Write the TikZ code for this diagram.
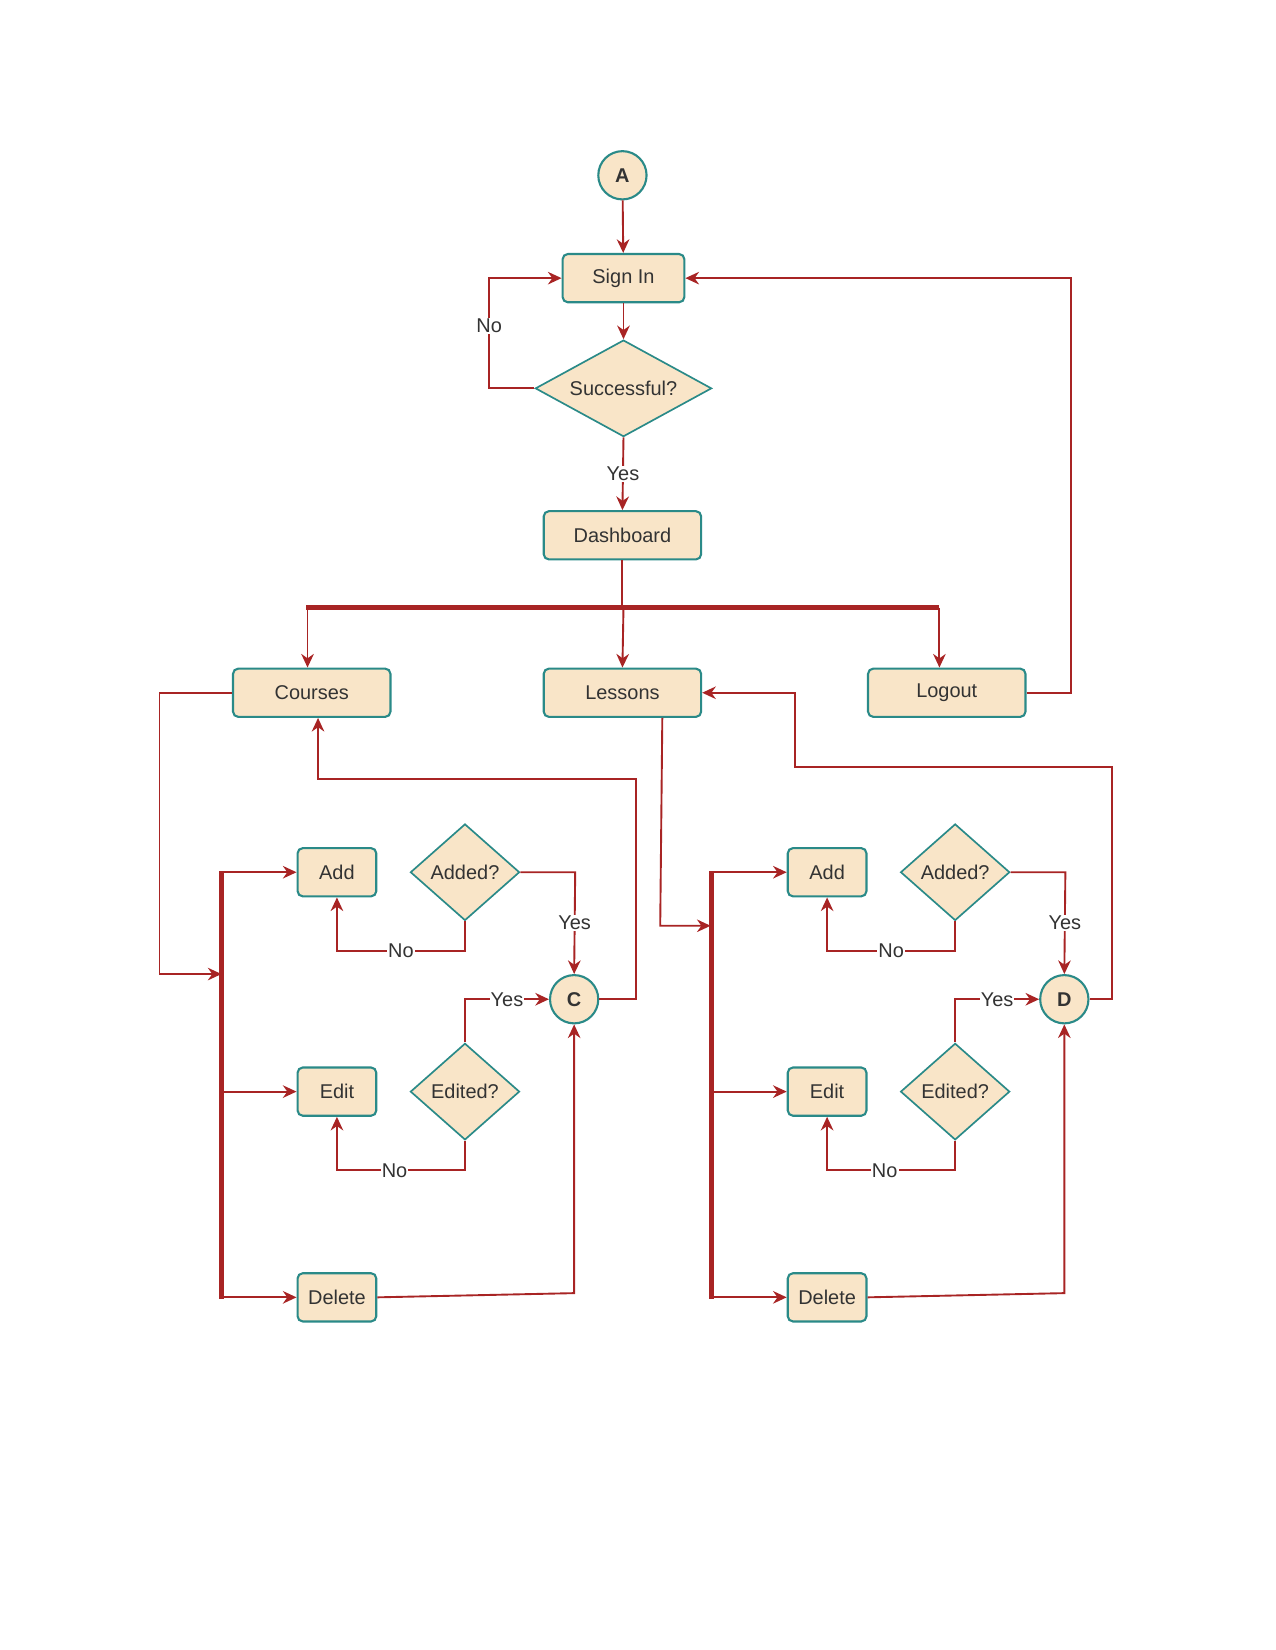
\documentclass[tikz,border=0pt]{standalone}
\usepackage{fontspec}
\setmainfont{Liberation Sans}
\usetikzlibrary{shapes.geometric,arrows.meta}
\definecolor{bg}{HTML}{F9E5C8}
\definecolor{bd}{HTML}{2A8A88}
\definecolor{ln}{HTML}{A82424}
\definecolor{tx}{HTML}{333333}
\begin{document}
\begin{tikzpicture}[x=0.5pt,y=-0.5pt,
  every node/.style={text=tx,font=\fontsize{9.5}{11}\selectfont},
  box/.style={draw=bd,line width=1pt,fill=bg,rounded corners=2.5pt,minimum width=75pt,minimum height=23pt,inner sep=0pt},
  sbox/.style={box,minimum width=37.5pt},
  dia/.style={draw=bd,line width=0.8pt,fill=bg,diamond,inner sep=0pt,aspect=1.83,minimum width=84pt,minimum height=46pt},
  sdia/.style={dia,aspect=1.13,minimum width=52pt},
  circ/.style={draw=bd,line width=1pt,fill=bg,circle,minimum size=23pt,inner sep=0pt,font=\bfseries\fontsize{9.5}{11}\selectfont},
  ar/.style={draw=ln,line width=0.9pt,-{Stealth[length=6.5pt,width=6pt]}},
  pl/.style={draw=ln,line width=0.9pt},
  bus/.style={draw=ln,line width=2.5pt},
  lab/.style={fill=white,inner sep=0.5pt}]
\useasboundingbox (0,0) rectangle (1215,1572);
\node[circ] (A) at (593,167) {A};
\node[box,minimum width=58pt] (sign) at (594,265) {Sign In};
\node[dia] (succ) at (594,370) {Successful?};
\node[box] (dash) at (593,510) {Dashboard};
\node[box] (cour) at (297,660) {Courses};
\node[box] (less) at (593,660) {Lessons};
\node[box] (logo) at (902,660) {Logout};
\coordinate (b1) at (292,579); \coordinate (b2) at (895,579);
\draw[ar] (A) -- (sign);
\draw[ar] (sign) -- (succ);
\draw[ar] (succ.south) -- node[lab]{Yes} (dash.north);
\draw[pl] (dash.south) -- (593,579);
\draw[bus] (b1) -- (b2);
\draw[ar] (293,579) -- (cour.north -| 293,0);
\draw[ar] (594,579) -- (less.north);
\draw[ar] (895,579) -- (logo.north -| 895,0);
\draw[ar] (succ.west) -- (466,370) -- node[lab,pos=0.57]{No} (466,265) -- (sign.west);
\draw[ar] (logo.east) -- (1020,660) -- (1020,265) -- (sign.east);
\foreach \s/\dx/\L/\src in {L/0/C/cour, R/467/D/less}{
  \begin{scope}[xshift=\dx*0.5pt]
  \node[sbox] (add\s) at (321,831) {Add};
  \node[sdia] (ad\s) at (443,831) {Added?};
  \node[circ] (\L) at (547,952) {\L};
  \node[sdia] (ed\s) at (443,1040) {Edited?};
  \node[sbox] (edit\s) at (321,1040) {Edit};
  \node[sbox] (del\s) at (321,1236) {Delete};
  \draw[bus] (211,830) -- (211,1238);
  \draw[ar] (211,831) -- (add\s.west);
  \draw[ar] (211,1040) -- (edit\s.west);
  \draw[ar] (211,1236) -- (del\s.west);
  \draw[ar] (ad\s.east) -- (548,831) -- node[lab]{Yes} (\L.north);
  \draw[ar] (ad\s.south) -- (443,906) -- node[lab,pos=0.5]{No} (321,906) -- (add\s.south);
  \draw[ar] (ed\s.north) -- (443,952) -- node[lab]{Yes} (\L.west);
  \draw[ar] (ed\s.south) -- (443,1115) -- node[lab,pos=0.55]{No} (321,1115) -- (edit\s.south);
  \draw[ar] (del\s.east) -- (547,1232) -- (\L.south);
  \end{scope}
}
\draw[ar] (cour.west) -- (152,660) -- (152,928) -- (211,928);
\draw[ar] (C.east) -- (606,952) -- (606,742) -- (303,742) -- (cour.south -| 303,0);
\draw[ar] (less.south -| 631,0) -- (629,882) -- (677,882);
\draw[ar] (D.east) -- (1059,952) -- (1059,731) -- (757,731) -- (757,660) -- (less.east);
\end{tikzpicture}
\end{document}
